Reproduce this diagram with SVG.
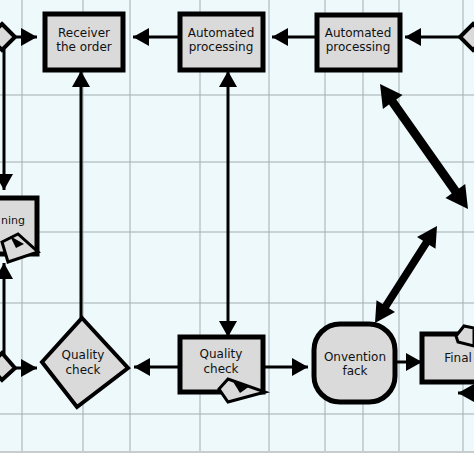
<svg xmlns="http://www.w3.org/2000/svg" width="474" height="474" viewBox="0 0 474 474">
<defs>
<style>
.grid line{stroke:#a3acb0;stroke-width:1}
.box{fill:#dadada;stroke:#000;stroke-width:5}
.dia{fill:#dadada;stroke:#000;stroke-width:4;stroke-linejoin:miter}
.tab{fill:#dadada;stroke:#000;stroke-width:3;stroke-linejoin:miter}
.lbl{font-family:"DejaVu Sans","Liberation Sans",sans-serif;font-size:12px;fill:#111;text-anchor:middle}
.con{stroke:#000;stroke-width:3;fill:none}
.big{fill:#000}
</style>
<marker id="ah" viewBox="0 0 16 18" refX="16" refY="9" markerWidth="16" markerHeight="18" markerUnits="userSpaceOnUse" orient="auto-start-reverse">
<path d="M0,0 L16,9 L0,18 z" fill="#000"/>
</marker>
</defs>
<rect width="474" height="474" fill="#ffffff"/>
<rect width="474" height="452" fill="#eef9fc"/>
<g class="grid">
<line x1="22" y1="0" x2="22" y2="452"/>
<line x1="83" y1="0" x2="83" y2="452"/>
<line x1="130" y1="0" x2="130" y2="452"/>
<line x1="200" y1="0" x2="200" y2="452"/>
<line x1="269" y1="0" x2="269" y2="452"/>
<line x1="325" y1="0" x2="325" y2="452"/>
<line x1="363" y1="0" x2="363" y2="452"/>
<line x1="399" y1="0" x2="399" y2="452"/>
<line x1="463" y1="0" x2="463" y2="452"/>
<line x1="0" y1="95" x2="474" y2="95"/>
<line x1="0" y1="162" x2="474" y2="162"/>
<line x1="0" y1="232" x2="474" y2="232"/>
<line x1="0" y1="303" x2="474" y2="303"/>
<line x1="0" y1="414" x2="474" y2="414"/>
<line x1="0" y1="452" x2="474" y2="452" style="stroke:#c8cccd;stroke-width:2"/>
</g>
<g id="connectors">
<path class="con" d="M15,37 L37,37" marker-end="url(#ah)"/>
<path class="con" d="M180,37 L133,37" marker-end="url(#ah)"/>
<path class="con" d="M317,37 L272,37" marker-end="url(#ah)"/>
<path class="con" d="M460,37 L405,37" marker-end="url(#ah)"/>
<path class="con" d="M81,318 L81,71" marker-end="url(#ah)"/>
<path class="con" d="M228,71 L228,337" marker-start="url(#ah)" marker-end="url(#ah)"/>
<path class="con" d="M4,48 L4,190" marker-end="url(#ah)"/>
<path class="con" d="M4,356 L4,263" marker-end="url(#ah)"/>
<path class="con" d="M15,368 L37,368" marker-end="url(#ah)"/>
<path class="con" d="M180,367 L134,367" marker-end="url(#ah)"/>
<path class="con" d="M263,367 L308,367" marker-end="url(#ah)"/>
<path class="con" d="M395,362 L422,362" marker-end="url(#ah)"/>
<path class="con" d="M476,393 L458,393" marker-end="url(#ah)"/>
<polygon class="big" points="380,84 402.5,95.1 396.3,99.4 459,188.4 465.2,184.1 468,209 445.5,197.9 451.7,193.6 389,104.6 382.9,108.9"/>
<polygon class="big" points="437,226 435.5,248.8 429.4,244.9 389,308.2 395,312.1 375,323 376.5,300.2 382.6,304.1 423,240.8 417,236.9"/>
</g>
<g id="node-diamond-topleft">
<polygon class="dia" points="2,24 15,37 2,50 -11,37"/>
</g>
<g id="node-receiver">
<rect class="box" x="45" y="14" width="78" height="56"/>
<text class="lbl" x="84" y="37">Receiver</text>
<text class="lbl" x="84" y="51">the order</text>
</g>
<g id="node-automated-1">
<rect class="box" x="180" y="14" width="83" height="56"/>
<text class="lbl" x="221" y="37">Automated</text>
<text class="lbl" x="221" y="51">processing</text>
</g>
<g id="node-automated-2">
<rect class="box" x="317" y="15" width="83" height="55"/>
<text class="lbl" x="358" y="37">Automated</text>
<text class="lbl" x="358" y="51">processing</text>
</g>
<g id="node-diamond-right">
<polygon class="dia" points="460,37 473,24 486,37 473,50"/>
</g>
<g id="node-planning">
<rect class="box" x="-20" y="198" width="57" height="56"/>
<text class="lbl" x="25" y="224" style="text-anchor:end;font-size:11px">ning</text>
<polygon class="tab" points="2,242 18,234 38,252 8,262"/>
<polygon points="10,236 24,244 16,248" fill="#000"/>
</g>
<g id="node-diamond-bottomleft">
<polygon class="dia" points="2,353 15,368 2,380 -11,366"/>
</g>
<g id="node-quality-diamond">
<polygon class="dia" points="82,318 128,368 77,407 42,362"/>
<text class="lbl" x="83" y="359">Quality</text>
<text class="lbl" x="83" y="374">check</text>
</g>
<g id="node-quality-box">
<rect class="box" x="180" y="337" width="83" height="55"/>
<text class="lbl" x="221" y="358">Quality</text>
<text class="lbl" x="221" y="373">check</text>
<polygon class="tab" points="219,389 228,379 265,392 228,402"/>
<polygon points="232,380 250,386 240,393" fill="#000"/>
</g>
<g id="node-onvention">
<rect class="box" x="314" y="324" width="81" height="78" rx="26" ry="26"/>
<text class="lbl" x="355" y="361">Onvention</text>
<text class="lbl" x="355" y="375">fack</text>
</g>
<g id="node-final">
<rect class="box" x="422" y="334" width="60" height="48"/>
<text class="lbl" x="458" y="362">Final</text>
<polygon class="tab" points="456,336 464,326 474,328 474,346 458,342"/>
</g>
</svg>
